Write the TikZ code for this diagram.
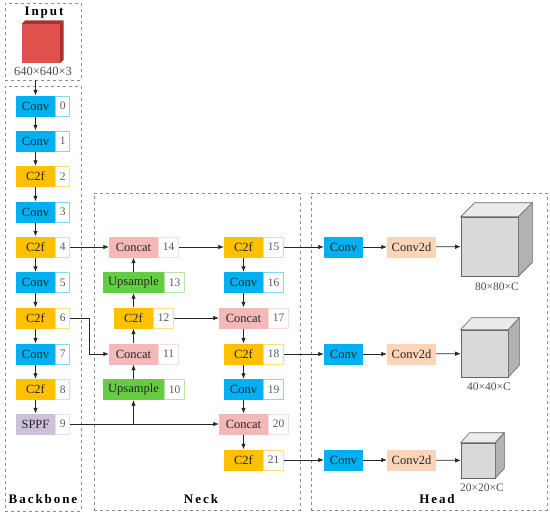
\documentclass[tikz,border=0pt]{standalone}
\usepackage{fontspec}
\setmainfont{Liberation Serif}
\newfontfamily\titlefont[LetterSpace=15]{Liberation Serif}
\usepackage{tikz}
\usetikzlibrary{arrows.meta,positioning,calc}
\usepackage{xcolor}
\definecolor{convblue}{HTML}{00B0F0}
\definecolor{ctwoyellow}{HTML}{FFC000}
\definecolor{catpink}{HTML}{F4B8B8}
\definecolor{upgreen}{HTML}{66CC44}
\definecolor{sppfpurple}{HTML}{CCC0DA}
\definecolor{peach}{HTML}{FCD5B8}
\definecolor{inred}{HTML}{E0504D}
\definecolor{inreddark}{HTML}{A8322F}

\begin{document}
\begin{tikzpicture}[
    x=1pt,y=-1pt,
    blk/.style={rectangle,inner sep=0pt,minimum height=21pt,text=black!85,font=\fontsize{12.5}{12.5}\selectfont},
    conv/.style={blk,fill=convblue,minimum width=39pt},
    ctwo/.style={blk,fill=ctwoyellow,minimum width=39pt},
    concat/.style={blk,fill=catpink,minimum width=49pt},
    upsmp/.style={blk,fill=upgreen,minimum width=61pt},
    sppf/.style={blk,fill=sppfpurple,minimum width=39pt},
    convtwod/.style={blk,fill=peach,minimum width=49pt},
    num/.style={rectangle,draw=#1!50,line width=0.8pt,fill=white,inner sep=0pt,minimum height=20.2pt,minimum width=14.2pt,text=black!65,font=\fontsize{11.5}{11.5}\selectfont},
    wide/.style={minimum width=20.2pt},
    arrow/.style={-{Latex[length=5.5pt,width=4.5pt]},line width=0.7pt,black!85},
    group/.style={rectangle,draw=black!45,dashed,line width=0.6pt,inner sep=0pt},
    title/.style={font=\titlefont\bfseries\fontsize{13}{13}\selectfont},
    size/.style={text=black!70,font=\fontsize{11.5}{12}\selectfont},
    face/.style={draw=black!60,line width=0.6pt,fill=black!15,inner sep=0pt}
]
\useasboundingbox (0,0) rectangle (550,515);

% Groups
\node[group,minimum width=76pt,minimum height=77pt] (inbox) at (43,41.5) {};
\node[group,minimum width=76pt,minimum height=425pt] (bbbox) at (43,298.5) {};
\node[group,minimum width=206pt,minimum height=317pt] (neckbox) at (197,351.5) {};
\node[group,minimum width=236pt,minimum height=317pt] (headbox) at (429,351.5) {};

\node[title] (intitle) at (44,13) {Input};
\node[title] (bbtitle) at (43,499) {Backbone};
\node[title] (necktitle) at (201,499) {Neck};
\node[title] (headtitle) at (437,499) {Head};

% Input
\node[fill=inred,inner sep=0pt,minimum width=38pt,minimum height=39pt] (incube) at (41,43.5) {};
\fill[inreddark] (incube.north west) -- ++(3.5,-3.5) -- ($(incube.north east)+(3.5,-3.5)$) -- (incube.north east) -- cycle;
\fill[inreddark] (incube.north east) -- ++(3.5,-3.5) -- ($(incube.south east)+(3.5,-3.5)$) -- (incube.south east) -- cycle;
\node[size,font=\fontsize{12.5}{13}\selectfont] (insize) at (43,71) {640×640×3};

% Backbone
\node[conv] (c0) at (35.5,106) {Conv};
\node[num=convblue,right=0pt of c0] (n0) {0};
\node[conv] (c1) at (35.5,141) {Conv};
\node[num=convblue,right=0pt of c1] (n1) {1};
\node[ctwo] (c2) at (35.5,176.5) {C2f};
\node[num=ctwoyellow,right=0pt of c2] (n2) {2};
\node[conv] (c3) at (35.5,212) {Conv};
\node[num=convblue,right=0pt of c3] (n3) {3};
\node[ctwo] (c4) at (35.5,247) {C2f};
\node[num=ctwoyellow,right=0pt of c4] (n4) {4};
\node[conv] (c5) at (35.5,282.5) {Conv};
\node[num=convblue,right=0pt of c5] (n5) {5};
\node[ctwo] (c6) at (35.5,318) {C2f};
\node[num=ctwoyellow,right=0pt of c6] (n6) {6};
\node[conv] (c7) at (35.5,354) {Conv};
\node[num=convblue,right=0pt of c7] (n7) {7};
\node[ctwo] (c8) at (35.5,389.5) {C2f};
\node[num=ctwoyellow,right=0pt of c8] (n8) {8};
\node[sppf] (c9) at (35.5,424) {SPPF};
\node[num=sppfpurple,right=0pt of c9] (n9) {9};

% Neck, left column
\node[upsmp] (c10) at (133.5,389.5) {Upsample};
\node[num=upgreen,wide,right=0pt of c10] (n10) {10};
\node[concat] (c11) at (133.5,354) {Concat};
\node[num=catpink,wide,right=0pt of c11] (n11) {11};
\node[ctwo] (c12) at (133.5,318) {C2f};
\node[num=ctwoyellow,wide,right=0pt of c12] (n12) {12};
\node[upsmp] (c13) at (133.5,282.5) {Upsample};
\node[num=upgreen,wide,right=0pt of c13] (n13) {13};
\node[concat] (c14) at (133.5,247) {Concat};
\node[num=catpink,wide,right=0pt of c14] (n14) {14};

% Neck, right column
\node[ctwo] (c15) at (243.5,247) {C2f};
\node[num=ctwoyellow,wide,right=0pt of c15] (n15) {15};
\node[conv] (c16) at (243.5,282.5) {Conv};
\node[num=convblue,wide,right=0pt of c16] (n16) {16};
\node[concat] (c17) at (243.5,318) {Concat};
\node[num=catpink,wide,right=0pt of c17] (n17) {17};
\node[ctwo] (c18) at (243.5,354) {C2f};
\node[num=ctwoyellow,wide,right=0pt of c18] (n18) {18};
\node[conv] (c19) at (243.5,389.5) {Conv};
\node[num=convblue,wide,right=0pt of c19] (n19) {19};
\node[concat] (c20) at (243.5,424) {Concat};
\node[num=catpink,wide,right=0pt of c20] (n20) {20};
\node[ctwo] (c21) at (243.5,460) {C2f};
\node[num=ctwoyellow,wide,right=0pt of c21] (n21) {21};

% Head
\node[conv] (hconv1) at (343.5,247) {Conv};
\node[convtwod] (hout1) at (411.5,247) {Conv2d};
\node[conv] (hconv2) at (343.5,354) {Conv};
\node[convtwod] (hout2) at (411.5,354) {Conv2d};
\node[conv] (hconv3) at (343.5,460) {Conv};
\node[convtwod] (hout3) at (411.5,460) {Conv2d};

% Output cubes
\node[face,minimum width=57pt,minimum height=59pt] (big) at (489.5,246.5) {};
\draw[face,fill=black!8] (big.north west) -- ++(14,-14) -- ($(big.north east)+(14,-14)$) -- (big.north east) -- cycle;
\draw[face,fill=black!30] (big.north east) -- ++(14,-14) -- ($(big.south east)+(14,-14)$) -- (big.south east) -- cycle;
\node[size] (bigsize) at (497,287) {80×80×C};

\node[face,minimum width=47pt,minimum height=47pt] (mid) at (484.5,353.5) {};
\draw[face,fill=black!8] (mid.north west) -- ++(11,-12) -- ($(mid.north east)+(11,-12)$) -- (mid.north east) -- cycle;
\draw[face,fill=black!30] (mid.north east) -- ++(11,-12) -- ($(mid.south east)+(11,-12)$) -- (mid.south east) -- cycle;
\node[size] (midsize) at (489,387) {40×40×C};

\node[face,minimum width=34pt,minimum height=35pt] (small) at (478,460.5) {};
\draw[face,fill=black!8] (small.north west) -- ++(9,-10) -- ($(small.north east)+(9,-10)$) -- (small.north east) -- cycle;
\draw[face,fill=black!30] (small.north east) -- ++(9,-10) -- ($(small.south east)+(9,-10)$) -- (small.south east) -- cycle;
\node[size] (smallsize) at (482,488) {20×20×C};

% Arrows, backbone
\draw[arrow] (inbox.south -| c0) -- (c0);
\draw[arrow] (c0) -- (c1);
\draw[arrow] (c1) -- (c2);
\draw[arrow] (c2) -- (c3);
\draw[arrow] (c3) -- (c4);
\draw[arrow] (c4) -- (c5);
\draw[arrow] (c5) -- (c6);
\draw[arrow] (c6) -- (c7);
\draw[arrow] (c7) -- (c8);
\draw[arrow] (c8) -- (c9);

% Arrows, backbone to neck
\coordinate (turn6) at (89,318);
\coordinate (split9) at (c10 |- c9);
\draw[arrow] (n4) -- (c14);
\draw[arrow] (n6) -- (turn6) |- (c11);
\draw[arrow] (n9) -- (c20);
\draw[arrow] (split9) -- (c10);

% Arrows, neck
\draw[arrow] (c10) -- (c11);
\draw[arrow] (c11) -- (c12);
\draw[arrow] (c12) -- (c13);
\draw[arrow] (c13) -- (c14);
\draw[arrow] (n14) -- (c15);
\draw[arrow] (n12) -- (c17);
\draw[arrow] (c15) -- (c16);
\draw[arrow] (c16) -- (c17);
\draw[arrow] (c17) -- (c18);
\draw[arrow] (c18) -- (c19);
\draw[arrow] (c19) -- (c20);
\draw[arrow] (c20) -- (c21);

% Arrows, head
\draw[arrow] (n15) -- (hconv1);
\draw[arrow] (n18) -- (hconv2);
\draw[arrow] (n21) -- (hconv3);
\draw[arrow] (hconv1) -- (hout1);
\draw[arrow] (hconv2) -- (hout2);
\draw[arrow] (hconv3) -- (hout3);
\draw[arrow] (hout1) -- (big);
\draw[arrow] (hout2) -- (mid);
\draw[arrow] (hout3) -- (small);
\end{tikzpicture}
\end{document}
